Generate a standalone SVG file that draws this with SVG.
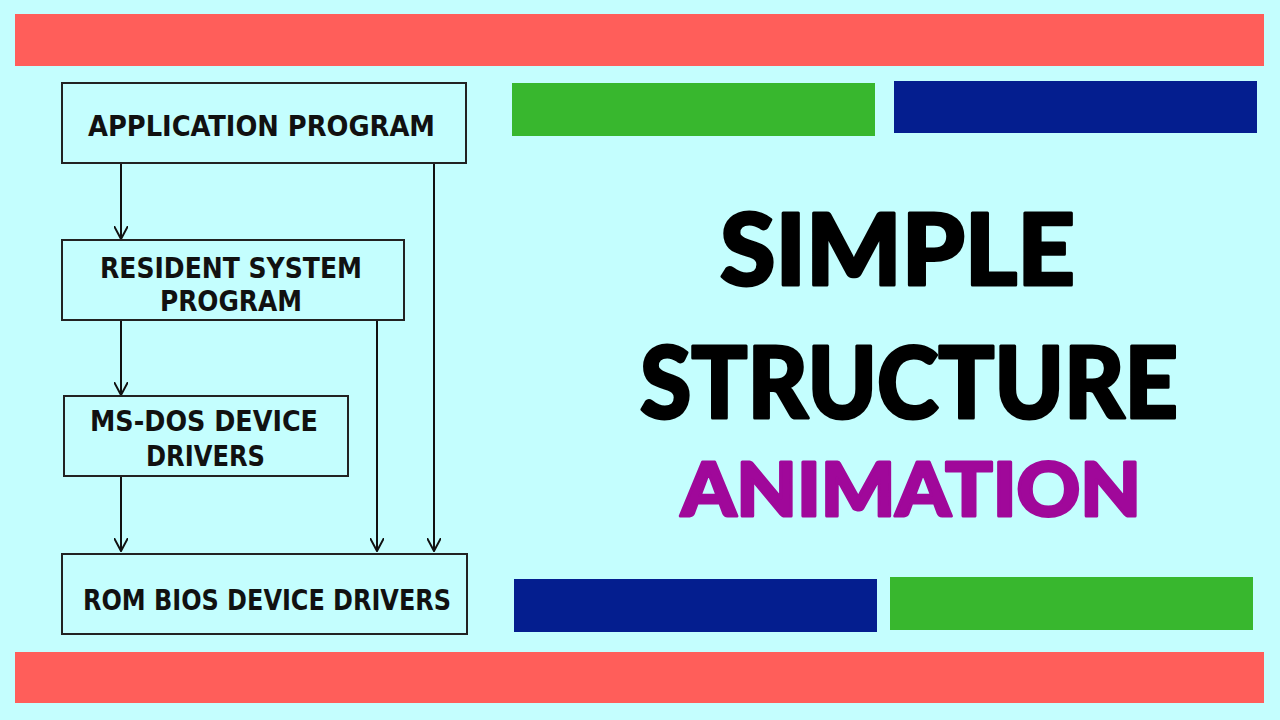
<svg xmlns="http://www.w3.org/2000/svg" width="1280" height="720" viewBox="0 0 1280 720">
<defs>
<style>
.box{fill:none;stroke:#222;stroke-width:2}
.lbl{font-family:"DejaVu Sans Condensed","DejaVu Sans",sans-serif;font-weight:bold;font-size:28px;fill:#111}
.con{stroke:#111;stroke-width:2;fill:none}
.title{font-family:"Lato","Liberation Sans",sans-serif;font-weight:900;fill:#000;stroke:#000;stroke-width:3;stroke-linejoin:round}
</style>
<marker id="ah" viewBox="0 0 14 14" refX="13" refY="7" markerWidth="14" markerHeight="14" markerUnits="userSpaceOnUse" orient="auto">
<path d="M0,0 L13,7 L0,14" fill="none" stroke="#111" stroke-width="2"/>
</marker>
</defs>
<rect width="1280" height="720" fill="#C4FEFE"/>
<g id="bars">
<rect x="15" y="14" width="1249" height="52" fill="#FF5E5A"/>
<rect x="512" y="83" width="363" height="53" fill="#38B72E"/>
<rect x="894" y="81" width="363" height="52" fill="#041E8F"/>
<rect x="514" y="579" width="363" height="53" fill="#041E8F"/>
<rect x="890" y="577" width="363" height="53" fill="#38B72E"/>
<rect x="15" y="652" width="1249" height="51" fill="#FF5E5A"/>
</g>
<g id="connectors">
<line class="con" x1="121" y1="163" x2="121" y2="239" marker-end="url(#ah)"/>
<line class="con" x1="121" y1="320" x2="121" y2="395" marker-end="url(#ah)"/>
<line class="con" x1="121" y1="476" x2="121" y2="551" marker-end="url(#ah)"/>
<line class="con" x1="377" y1="320" x2="377" y2="551" marker-end="url(#ah)"/>
<line class="con" x1="434" y1="163" x2="434" y2="551" marker-end="url(#ah)"/>
</g>
<g id="app">
<rect class="box" x="62" y="83" width="404" height="80"/>
<text class="lbl" x="88" y="136" textLength="347" lengthAdjust="spacingAndGlyphs">APPLICATION PROGRAM</text>
</g>
<g id="resident">
<rect class="box" x="62" y="240" width="342" height="80"/>
<text class="lbl" x="100" y="278" textLength="262" lengthAdjust="spacingAndGlyphs">RESIDENT SYSTEM</text>
<text class="lbl" x="160" y="311" textLength="142" lengthAdjust="spacingAndGlyphs">PROGRAM</text>
</g>
<g id="msdos">
<rect class="box" x="64" y="396" width="284" height="80"/>
<text class="lbl" x="90" y="431" textLength="228" lengthAdjust="spacingAndGlyphs">MS-DOS DEVICE</text>
<text class="lbl" x="146" y="466" textLength="119" lengthAdjust="spacingAndGlyphs">DRIVERS</text>
</g>
<g id="rom">
<rect class="box" x="62" y="554" width="405" height="80"/>
<text class="lbl" x="83" y="610" textLength="368" lengthAdjust="spacingAndGlyphs">ROM BIOS DEVICE DRIVERS</text>
</g>
<g id="title">
<text class="title" x="720" y="285" font-size="100" textLength="355" lengthAdjust="spacingAndGlyphs">SIMPLE</text>
<text class="title" x="640" y="418" font-size="100" textLength="538" lengthAdjust="spacingAndGlyphs">STRUCTURE</text>
<text x="681" y="516" font-family="Lato, 'Liberation Sans', sans-serif" font-weight="900" font-size="75" fill="#A0089A" stroke="#A0089A" stroke-width="3" stroke-linejoin="round" textLength="460" lengthAdjust="spacingAndGlyphs">ANIMATION</text>
</g>
</svg>
